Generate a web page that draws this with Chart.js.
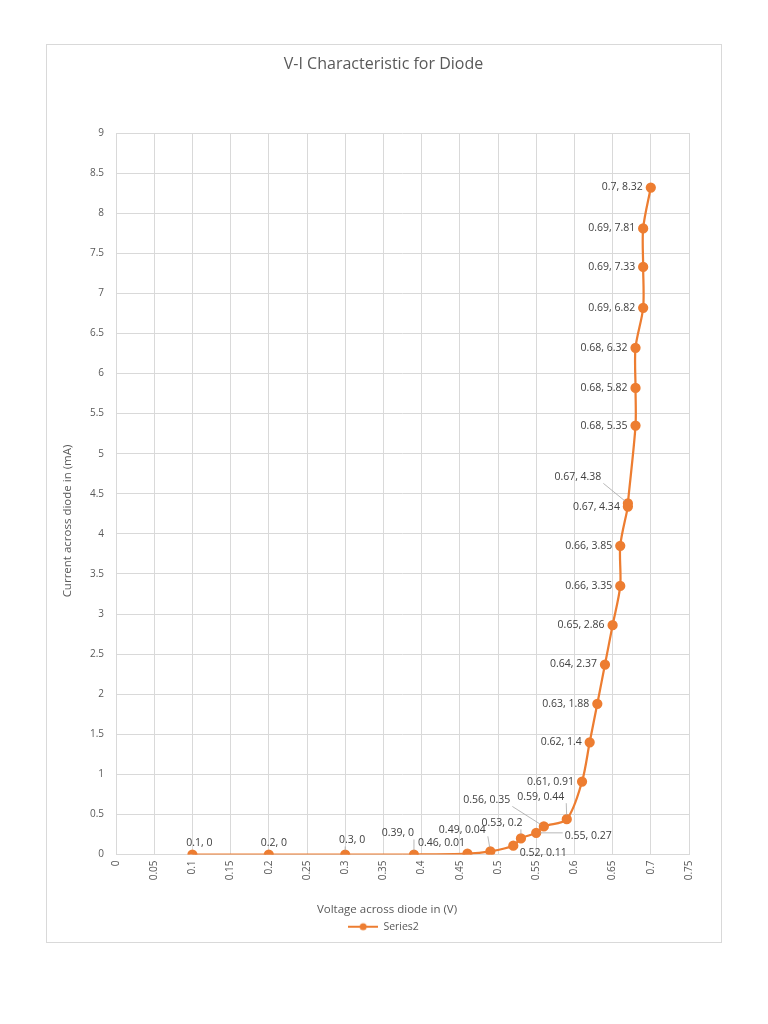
<!DOCTYPE html>
<html><head><meta charset="utf-8">
<script src="https://cdn.jsdelivr.net/npm/chart.js@4/dist/chart.umd.min.js"></script>
<style>html,body{margin:0;padding:0;background:#fff}canvas{display:block}</style>
</head><body><canvas id="c" width="768" height="1024"></canvas>
<script>
const chartTitle = 'V-I Characteristic for Diode';
const xAxisTitle = 'Voltage across diode in (V)';
const yAxisTitle = 'Current across diode in (mA)';
const seriesName = 'Series2';
const voltage = [0.1,0.2,0.3,0.39,0.46,0.49,0.52,0.53,0.55,0.56,0.59,0.61,0.62,0.63,0.64,0.65,0.66,0.66,0.67,0.67,0.68,0.68,0.68,0.69,0.69,0.69,0.7];
const current = [0,0,0,0,0.01,0.04,0.11,0.2,0.27,0.35,0.44,0.91,1.4,1.88,2.37,2.86,3.35,3.85,4.34,4.38,5.35,5.82,6.32,6.82,7.33,7.81,8.32];
const xTicks = {min:0, max:0.75, step:0.05};
const yTicks = {min:0, max:9, step:0.5};

const points = voltage.map((v,i)=>({x:v, y:current[i]}));
const FONT = '"Open Sans", "Liberation Sans", sans-serif';
const ORANGE = '#ED7D31';
const TEXT = '#595959';

// label placement (offset of label centre from the point); default: left of point
const labelPlacement = {0:[7,-11],1:[5,-11],2:[7,-14],3:[-16,-21],4:[-26,-11],5:[-28,-21],6:[30,7],7:[-19,-15],8:[52,3],9:[-57,-26],10:[-26,-22],19:[-50,-26]};

const frame = {
  id:'frame',
  beforeDraw(chart){
    const c = chart.ctx; c.save();
    c.fillStyle='#fff'; c.fillRect(0,0,chart.width,chart.height);
    c.strokeStyle='#d9d9d9'; c.lineWidth=1;
    c.strokeRect(46.5,44.5,675,898);
    c.restore();
  },
  afterDraw(chart){
    const c = chart.ctx; c.save();
    c.fillStyle = TEXT; c.font = '11.5px ' + FONT;
    c.textAlign='center'; c.textBaseline='middle';
    c.fillText(xAxisTitle, 387, 910);
    c.translate(68, 521); c.rotate(-Math.PI/2);
    c.fillText(yAxisTitle, 0, 0);
    c.restore();
  }
};

const dataLabels = {
  id:'dataLabels',
  afterDatasetsDraw(chart){
    const c = chart.ctx; const meta = chart.getDatasetMeta(0);
    c.save();
    c.font = '10.5px ' + FONT;
    c.textBaseline='middle'; c.textAlign='center';
    meta.data.forEach((el,i)=>{
      const txt = voltage[i] + ', ' + current[i];
      const w = c.measureText(txt).width, h = 12;
      let cx, cy;
      if (labelPlacement[i]) { cx = el.x + labelPlacement[i][0]; cy = el.y + labelPlacement[i][1]; }
      else { cx = el.x - 8 - w/2; cy = el.y; }
      const l = cx - w/2 - 2, r = cx + w/2 + 2, t = cy - h/2, b = cy + h/2;
      const nx = Math.min(Math.max(el.x, l), r), ny = Math.min(Math.max(el.y, t), b);
      const d = Math.hypot(el.x-nx, el.y-ny);
      if (labelPlacement[i] && d > 6) {
        c.strokeStyle='#a6a6a6'; c.lineWidth=0.8;
        c.beginPath(); c.moveTo(nx,ny);
        const k = (d-4)/d;
        c.lineTo(nx + (el.x-nx)*k, ny + (el.y-ny)*k); c.stroke();
      }
      c.fillStyle='#404040';
      c.fillText(txt, cx, cy);
    });
    c.restore();
  }
};

// legend marker: line with dot
const marker = document.createElement('canvas');
marker.width = 30; marker.height = 10;
(function(){const m=marker.getContext('2d');m.strokeStyle=ORANGE;m.lineWidth=2;m.beginPath();m.moveTo(0,5);m.lineTo(30,5);m.stroke();m.fillStyle=ORANGE;m.beginPath();m.arc(15,5,3.5,0,Math.PI*2);m.fill();})();

const fmt = v => String(Number(v.toFixed(2)));

new Chart(document.getElementById('c'), {
  type:'scatter',
  data:{datasets:[{
    label:seriesName, data:points, showLine:true,
    borderColor:ORANGE, backgroundColor:ORANGE, borderWidth:2.25,
    pointRadius:4, pointHoverRadius:4, tension:0.3,
    pointStyle:'circle'
  }]},
  options:{
    responsive:false, animation:false, devicePixelRatio:1,
    layout:{padding:{left:46, right:47, top:44, bottom:82}},
    plugins:{
      title:{display:true, text:chartTitle, color:TEXT, font:{family:FONT, size:16, weight:'normal'}, padding:{top:10.4, bottom:59.4}},
      legend:{display:true, position:'bottom', labels:{color:TEXT, font:{family:FONT, size:10.5}, usePointStyle:true, pointStyle:marker, pointStyleWidth:30, padding:6, boxHeight:10,
        generateLabels:(ch)=>[{text:seriesName, pointStyle:marker, fillStyle:ORANGE, strokeStyle:ORANGE, lineWidth:0, datasetIndex:0, fontColor:TEXT}]}},
      tooltip:{enabled:false}
    },
    scales:{
      x:{type:'linear', min:xTicks.min, max:xTicks.max,
        ticks:{stepSize:xTicks.step, color:TEXT, font:{family:FONT, size:10}, minRotation:90, maxRotation:90, padding:6, callback:v=>fmt(v)},
        grid:{color:'#d9d9d9', drawTicks:false}, border:{display:false},
        afterFit:s=>{s.height=61;}
      },
      y:{type:'linear', min:yTicks.min, max:yTicks.max,
        ticks:{stepSize:yTicks.step, color:TEXT, font:{family:FONT, size:10}, padding:12, callback:v=>fmt(v)},
        grid:{color:'#d9d9d9', drawTicks:false}, border:{display:false},
        afterFit:s=>{s.width=70;}
      },
      y2:{type:'linear', position:'right', min:0, max:1, display:true,
        ticks:{display:false}, grid:{display:false, drawTicks:false}, border:{display:false},
        afterFit:s=>{s.width=32;}
      }
    }
  },
  plugins:[frame, dataLabels]
});
</script></body></html>
